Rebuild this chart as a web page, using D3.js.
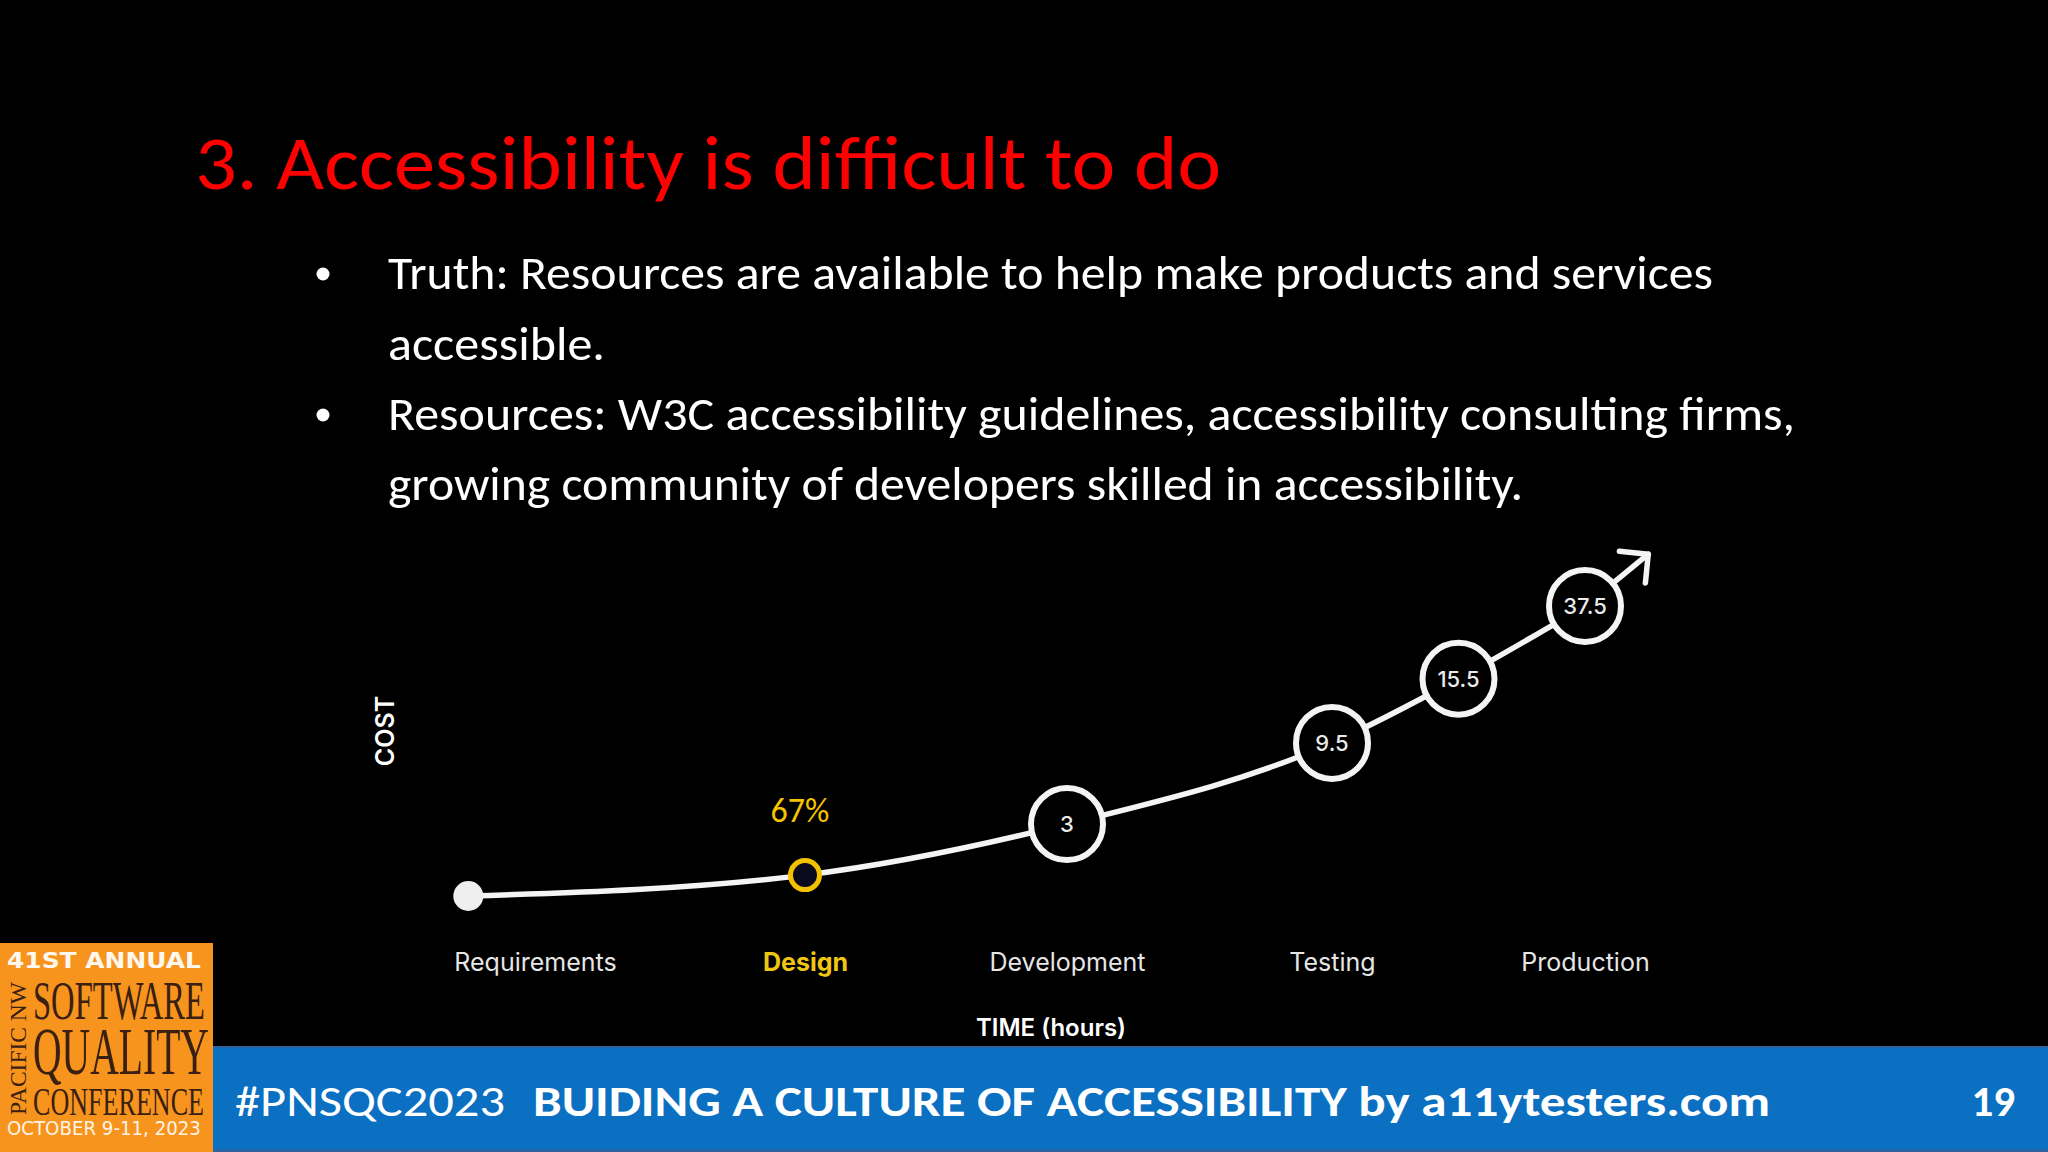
<!DOCTYPE html>
<html><head><meta charset="utf-8">
<script src="https://cdn.jsdelivr.net/npm/d3@7"></script>
<style>html,body{margin:0;padding:0;background:#000;} svg{display:block;}</style>
</head><body>
<script>
// ---------- data ----------
const titleText = "3. Accessibility is difficult to do";
const bulletLines = [
  {bullet: true,  text: "Truth: Resources are available to help make products and services"},
  {bullet: false, text: "accessible."},
  {bullet: true,  text: "Resources: W3C accessibility guidelines, accessibility consulting firms,"},
  {bullet: false, text: "growing community of developers skilled in accessibility."}
];
const stages = ["Requirements", "Design", "Development", "Testing", "Production"];
const stageTicks = [0, 1, 2, 3, 4];
const highlightStage = "Design";
const nodeStage = [-0.3, 1, 2, 3, 3.5, 4];          // position along the TIME axis
const nodeLevel = [0, 2.7, 9.3, 19.8, 28.1, 37.5];   // plotted COST level
const nodeLabels = ["", "", "3", "9.5", "15.5", "37.5"];
const nodeKind = ["start", "highlight", "value", "value", "value", "value"];
const arrowTip = {stage: 4.25, level: 44.2};
const designNote = "67%";
const xAxisTitle = "TIME (hours)";
const yAxisTitle = "COST";
const footerTag = "#PNSQC2023";
const footerTitle = "BUIDING A CULTURE OF ACCESSIBILITY by a11ytesters.com";
const pageNumber = "19";
const logoLines = ["41ST ANNUAL", "SOFTWARE", "QUALITY", "CONFERENCE", "OCTOBER 9-11, 2023"];
const logoSide = "PACIFIC NW";

// ---------- setup ----------
const W = 2048, H = 1152;
const svg = d3.select("body").append("svg").attr("width", W).attr("height", H);
svg.append("rect").attr("width", W).attr("height", H).attr("fill", "#000");

const sans = "Carlito, 'Open Sans', 'Noto Sans', sans-serif";
const ui = "Inter, Roboto, 'Noto Sans', sans-serif";

// helper: place text so that it spans a given width by horizontal scaling
function fitText(parent, str, x0, yBase, width, attrs, rotate) {
  const g = parent.append("g");
  const t = g.append("text").attr("x", 0).attr("y", 0).text(str);
  Object.entries(attrs).forEach(([k, v]) => t.attr(k, v));
  const natural = t.node().getComputedTextLength();
  const sx = width / natural;
  g.attr("transform", rotate
    ? `translate(${x0},${yBase}) rotate(-90) scale(${sx},1)`
    : `translate(${x0},${yBase}) scale(${sx},1)`);
  return g;
}

// title
svg.append("text").attr("x", 195).attr("y", 189)
  .attr("font-family", sans).attr("font-size", 77).attr("fill", "#ff0000")
  .attr("textLength", 1026).attr("lengthAdjust", "spacingAndGlyphs")
  .text(titleText);

// bullets
const bulletBase = [289, 360, 430, 500];
const bulletWidths = [1325, 217, 1407, 1135];
const bl = svg.append("g");
bulletLines.forEach((d, i) => {
  if (d.bullet) {
    bl.append("circle").attr("cx", 323).attr("cy", bulletBase[i] - 15).attr("r", 6.5).attr("fill", "#fff");
  }
  bl.append("text").attr("x", 388).attr("y", bulletBase[i])
    .attr("font-family", sans).attr("font-size", 48).attr("fill", "#fff")
    .attr("textLength", bulletWidths[i]).attr("lengthAdjust", "spacingAndGlyphs")
    .text(d.text);
});

// ---------- chart ----------
const x = d3.scaleLinear().domain([0, 1, 2, 3, 4]).range([546, 805, 1067, 1332, 1585]);
const y = d3.scaleLinear().domain([0, 40]).range([896, 586.7]);
const chart = svg.append("g");

const pts = nodeStage.map((s, i) => ({s, v: nodeLevel[i], label: nodeLabels[i], kind: nodeKind[i]}));

const line = d3.line().x(d => x(d.s)).y(d => y(d.v)).curve(d3.curveMonotoneX);
chart.append("path").attr("d", line(pts)).attr("fill", "none")
  .attr("stroke", "#f4f4f4").attr("stroke-width", 5.5).attr("stroke-linecap", "round");

// arrow
const last = pts[pts.length - 1];
const tx = x(arrowTip.stage), ty = y(arrowTip.level);
chart.append("line").attr("x1", x(last.s)).attr("y1", y(last.v)).attr("x2", tx).attr("y2", ty)
  .attr("stroke", "#f4f4f4").attr("stroke-width", 5.5).attr("stroke-linecap", "round");
const ang = Math.atan2(ty - y(last.v), tx - x(last.s)) + Math.PI;
const armL = 29;
const a1 = ang - Math.PI / 4, a2 = ang + Math.PI / 4;
chart.append("path")
  .attr("d", `M${tx + armL * Math.cos(a1)},${ty + armL * Math.sin(a1)}L${tx},${ty}L${tx + armL * Math.cos(a2)},${ty + armL * Math.sin(a2)}`)
  .attr("fill", "none").attr("stroke", "#f4f4f4").attr("stroke-width", 5.5)
  .attr("stroke-linecap", "round").attr("stroke-linejoin", "round");

// nodes
const nodes = chart.selectAll("g.node").data(pts).join("g")
  .attr("transform", d => `translate(${x(d.s)},${y(d.v)})`);
nodes.filter(d => d.kind === "start").append("circle").attr("r", 15).attr("fill", "#efefef");
nodes.filter(d => d.kind === "highlight").append("circle").attr("r", 14.5)
  .attr("fill", "#0a0a1c").attr("stroke", "#f2c200").attr("stroke-width", 5);
const vn = nodes.filter(d => d.kind === "value");
vn.append("circle").attr("r", 36).attr("fill", "#000").attr("stroke", "#f4f4f4").attr("stroke-width", 6);
vn.append("text").attr("text-anchor", "middle").attr("dy", "0.36em")
  .attr("font-family", ui).attr("font-weight", 500).attr("font-size", 22).attr("fill", "#eaeaea")
  .text(d => d.label);

// 67% note
const hp = pts.find(d => d.kind === "highlight");
chart.append("text").attr("x", x(hp.s) - 5).attr("y", 822).attr("text-anchor", "middle")
  .attr("font-family", sans).attr("font-size", 34).attr("fill", "#f5c300")
  .text(designNote);

// x axis
const xAxis = d3.axisBottom(x).tickValues(stageTicks).tickFormat(i => stages[i]).tickSize(0).tickPadding(0);
const ax = chart.append("g").attr("transform", "translate(0,953)").call(xAxis);
ax.select(".domain").remove();
ax.selectAll("text")
  .attr("font-family", ui).attr("font-size", 25)
  .attr("fill", d => stages[d] === highlightStage ? "#efc614" : "#e6e6e6")
  .attr("font-weight", d => stages[d] === highlightStage ? 700 : 400)
  .attr("dx", d => d === 0 ? -11 : 0);

// axis titles
chart.append("text").attr("x", 1051).attr("y", 1036).attr("text-anchor", "middle")
  .attr("font-family", ui).attr("font-weight", 600).attr("font-size", 24).attr("fill", "#fff")
  .text(xAxisTitle);
chart.append("text").attr("transform", "translate(394,731) rotate(-90)").attr("text-anchor", "middle")
  .attr("font-family", ui).attr("font-weight", 600).attr("font-size", 25).attr("fill", "#fff")
  .text(yAxisTitle);

// ---------- footer ----------
svg.append("rect").attr("x", 213).attr("y", 1046).attr("width", W - 213).attr("height", H - 1046).attr("fill", "#0b70c2");
svg.append("rect").attr("x", 213).attr("y", 1046).attr("width", W - 213).attr("height", 2).attr("fill", "#2a64a0");
svg.append("rect").attr("x", 213).attr("y", 1149).attr("width", W - 213).attr("height", 3).attr("fill", "#2a64a0");
svg.append("text").attr("x", 235).attr("y", 1116).attr("font-family", sans).attr("font-size", 43).attr("fill", "#fff")
  .attr("textLength", 270).attr("lengthAdjust", "spacingAndGlyphs").text(footerTag);
svg.append("text").attr("x", 533).attr("y", 1116).attr("font-family", sans).attr("font-weight", 700).attr("font-size", 43).attr("fill", "#fff")
  .attr("textLength", 1237).attr("lengthAdjust", "spacingAndGlyphs").text(footerTitle);
svg.append("text").attr("x", 2015).attr("y", 1116).attr("text-anchor", "end").attr("font-family", sans).attr("font-weight", 700).attr("font-size", 43).attr("fill", "#fff")
  .text(pageNumber);

// ---------- logo ----------
const logo = svg.append("g");
logo.append("rect").attr("x", 0).attr("y", 943).attr("width", 213).attr("height", 209).attr("fill", "#f7941e");
const serif = "'Liberation Serif', 'DejaVu Serif', serif";
const dark = "#3a2012";
fitText(logo, logoLines[0], 7, 968, 194, {"font-family": "'DejaVu Sans', sans-serif", "font-weight": 700, "font-size": 22, "fill": "#fff8ee"});
fitText(logo, logoLines[1], 33, 1019, 172, {"font-family": serif, "font-size": 55, "fill": dark});
fitText(logo, logoLines[2], 33, 1074, 176, {"font-family": serif, "font-size": 68, "fill": dark});
fitText(logo, logoLines[3], 33, 1115, 171, {"font-family": serif, "font-size": 41, "fill": dark});
fitText(logo, logoLines[4], 7, 1135, 194, {"font-family": "'DejaVu Sans', sans-serif", "font-size": 19, "fill": "#fff4e6"});
fitText(logo, logoSide, 26, 1115, 133, {"font-family": serif, "font-size": 23, "fill": dark}, true);
</script>
</body></html>
